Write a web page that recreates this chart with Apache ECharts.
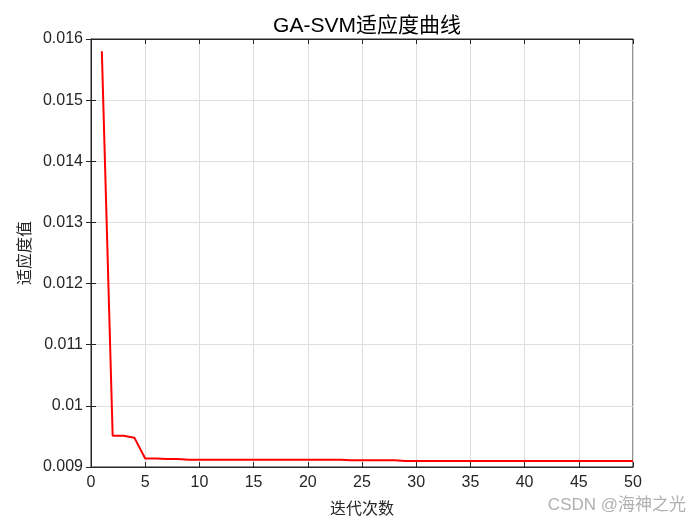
<!DOCTYPE html>
<html>
<head>
<meta charset="utf-8">
<script src="https://cdn.jsdelivr.net/npm/echarts@6/dist/echarts.min.js"></script>
<style>html,body{margin:0;padding:0;background:#fff;}#c{width:700px;height:525px;}</style>
</head>
<body>
<div id="c"></div>
<script>
const titleText = 'GA-SVM适应度曲线';
const xLabel = '迭代次数';
const yLabel = '适应度值';
const iterations = [1,2,3,4,5,6,7,8,9,10,11,12,13,14,15,16,17,18,19,20,21,22,23,24,25,26,27,28,29,30,31,32,33,34,35,36,37,38,39,40,41,42,43,44,45,46,47,48,49,50];
const fitness = [0.01580,0.00951,0.00951,0.00948,0.00914,0.00914,0.00913,0.00913,0.00912,0.00912,
  0.00912,0.00912,0.00912,0.00912,0.00912,0.00912,0.00912,0.00912,0.00912,0.00912,
  0.00912,0.00912,0.00912,0.00911,0.00911,0.00911,0.00911,0.00911,0.00910,0.00910,
  0.00910,0.00910,0.00910,0.00910,0.00910,0.00910,0.00910,0.00910,0.00910,0.00910,
  0.00910,0.00910,0.00910,0.00910,0.00910,0.00910,0.00910,0.00910,0.00910,0.00910];
const watermark = 'CSDN @海神之光';

const chart = echarts.init(document.getElementById('c'));
const fontTick = 'Helvetica, Arial, "Liberation Sans", sans-serif';
const cjk = '"Noto Sans CJK SC", sans-serif';
const tickStyle = { inside: true, length: 5, lineStyle: { color: '#262626' } };
const lineStyleAx = { show: true, lineStyle: { color: '#262626' } };
chart.setOption({
  backgroundColor: '#fff',
  animation: false,
  title: {
    text: titleText, left: 362, top: 11, textAlign: 'center',
    textStyle: { fontSize: 21, fontWeight: 'normal', color: '#000', fontFamily: '"Liberation Sans", "Noto Sans CJK SC", sans-serif' }
  },
  grid: { left: 91, right: 67, top: 39, bottom: 58, show: true, borderColor: '#262626', borderWidth: 1 },
  xAxis: [{
    type: 'value', min: 0, max: 50, interval: 5,
    name: xLabel, nameLocation: 'middle', nameGap: 33,
    nameTextStyle: { fontSize: 16, color: '#262626', fontFamily: cjk },
    axisLine: lineStyleAx, axisTick: tickStyle,
    axisLabel: { fontSize: 16, color: '#262626', margin: 8, fontFamily: fontTick },
    splitLine: { show: true, lineStyle: { color: '#dedede' } }
  }, {
    type: 'value', min: 0, max: 50, interval: 5, position: 'top',
    axisLine: lineStyleAx, axisTick: tickStyle, axisLabel: { show: false }, splitLine: { show: false }
  }],
  yAxis: [{
    type: 'value', min: 0.009, max: 0.016, interval: 0.001,
    name: yLabel, nameLocation: 'middle', nameGap: 58, nameRotate: 90,
    nameTextStyle: { fontSize: 16, color: '#262626', fontFamily: cjk },
    axisLine: lineStyleAx, axisTick: tickStyle,
    axisLabel: { fontSize: 16, color: '#262626', margin: 8, fontFamily: fontTick,
      formatter: v => parseFloat(v.toFixed(4)).toString() },
    splitLine: { show: true, lineStyle: { color: '#dedede' } }
  }, {
    type: 'value', min: 0.009, max: 0.016, interval: 0.001, position: 'right',
    axisLine: lineStyleAx, axisTick: tickStyle, axisLabel: { show: false }, splitLine: { show: false }
  }],
  series: [{
    type: 'line', data: iterations.map((x, i) => [x, fitness[i]]),
    showSymbol: false, lineStyle: { color: '#ff0000', width: 2 }, itemStyle: { color: '#ff0000' }
  }],
  graphic: [{
    type: 'text', right: 14, top: 497,
    style: { text: watermark, fontSize: 17, fill: '#b0b0b0', fontFamily: '"Liberation Sans", "Noto Sans CJK SC", sans-serif' }
  }]
});
</script>
</body>
</html>
